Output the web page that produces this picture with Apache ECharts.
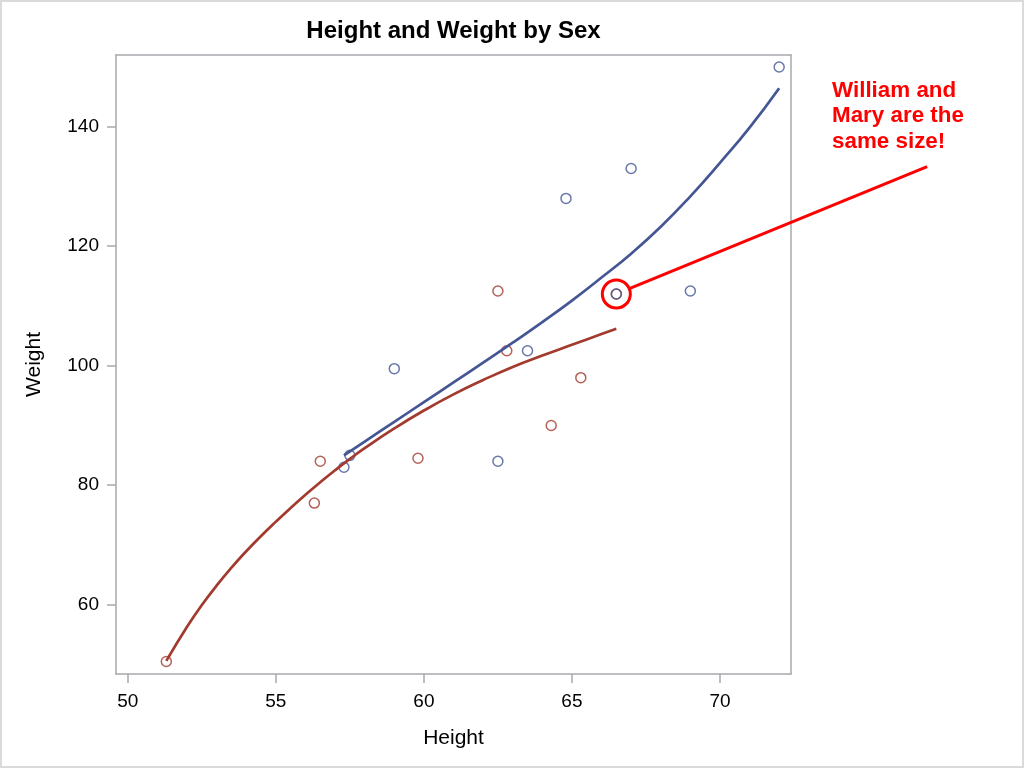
<!DOCTYPE html>
<html><head><meta charset="utf-8">
<script src="https://cdn.jsdelivr.net/npm/echarts@6/dist/echarts.min.js"></script>
<style>html,body{margin:0;padding:0;background:#fff}#c{width:1024px;height:768px}</style>
</head><body><div id="c"></div>
<script>
const maleHeight = [69.0, 63.5, 57.3, 62.5, 59.0, 72.0, 64.8, 67.0, 57.5, 66.5];
const maleWeight = [112.5, 102.5, 83.0, 84.0, 99.5, 150.0, 128.0, 133.0, 85.0, 112.0];
const femaleHeight = [56.5, 65.3, 62.8, 59.8, 62.5, 51.3, 64.3, 56.3, 66.5];
const femaleWeight = [84.0, 98.0, 102.5, 84.5, 112.5, 50.5, 90.0, 77.0, 112.0];
const maleFitX = [57.3, 58.0, 59.0, 60.0, 61.0, 62.0, 63.0, 64.0, 65.0, 66.0, 67.0, 68.0, 69.0, 70.0, 71.0, 72.0];
const maleFitY = [85.0, 87.3, 90.6, 93.9, 97.2, 100.5, 103.85, 107.3, 110.9, 114.75, 118.75, 123.25, 128.35, 133.95, 139.85, 146.45];
const femaleFitX = [51.3, 52.0, 52.5, 53.0, 53.5, 54.0, 54.5, 55.0, 55.5, 56.0, 56.5, 57.0, 57.5, 58.0, 59.0, 60.0, 61.0, 62.0, 63.0, 64.0, 65.0, 66.0, 66.5];
const femaleFitY = [50.6, 56.3, 59.95, 63.2, 66.2, 68.95, 71.5, 73.9, 76.2, 78.4, 80.5, 82.5, 84.4, 86.2, 89.5, 92.5, 95.2, 97.6, 99.8, 101.7, 103.5, 105.3, 106.2];
const xTicks = [50, 55, 60, 65, 70];
const yTicks = [60, 80, 100, 120, 140];
const titleText = 'Height and Weight by Sex';
const xName = 'Height';
const yName = 'Weight';
const noteLines = ['William and', 'Mary are the', 'same size!'];
const notePoint = [66.5, 112.0];
const noteAnchor = [77.0, 133.3];

const FONT = '"Liberation Sans", Arial, Helvetica, sans-serif';
const BLUE = '#445694', RED = '#A23A2E', FRAME = '#a6a9ae';
const zip = (a, b) => a.map((v, i) => [v, b[i]]);

const chart = echarts.init(document.getElementById('c'), null, {renderer: 'canvas'});
const frameAxis = {show: true, lineStyle: {color: FRAME, width: 1.5}};
chart.setOption({
  backgroundColor: '#fff',
  animation: false,
  title: {text: titleText, left: 453.5, textAlign: 'center', top: 19, padding: 0,
    textStyle: {fontSize: 24, fontWeight: 'bold', color: '#000', fontFamily: FONT}},
  grid: {left: 116, top: 55, right: 233, bottom: 94, containLabel: false},
  xAxis: [{
    type: 'value', min: 49.6, max: 72.4, position: 'bottom',
    name: xName, nameLocation: 'middle', nameGap: 54,
    nameTextStyle: {fontSize: 21, color: '#000', fontFamily: FONT},
    axisLine: frameAxis,
    axisTick: {show: true, length: 9, customValues: xTicks, lineStyle: {color: FRAME, width: 1.5}},
    axisLabel: {customValues: xTicks, margin: 18, fontSize: 19, color: '#000', fontFamily: FONT},
    splitLine: {show: false}
  }, {
    type: 'value', min: 49.6, max: 72.4, position: 'top',
    axisLine: frameAxis, axisTick: {show: false}, axisLabel: {show: false}, splitLine: {show: false}
  }],
  yAxis: [{
    type: 'value', min: 48.4, max: 152.0, position: 'left',
    name: yName, nameLocation: 'middle', nameGap: 71,
    nameTextStyle: {fontSize: 21, color: '#000', fontFamily: FONT},
    axisLine: frameAxis,
    axisTick: {show: true, length: 9, customValues: yTicks, lineStyle: {color: FRAME, width: 1.5}},
    axisLabel: {customValues: yTicks, margin: 17, fontSize: 19, color: '#000', fontFamily: FONT},
    splitLine: {show: false}
  }, {
    type: 'value', min: 48.4, max: 152.0, position: 'right',
    axisLine: frameAxis, axisTick: {show: false}, axisLabel: {show: false}, splitLine: {show: false}
  }],
  series: [
    {type: 'scatter', name: 'F', data: zip(femaleHeight, femaleWeight), symbol: 'circle', symbolSize: 10,
      itemStyle: {color: 'transparent', borderColor: RED, borderWidth: 1.5}, z: 3},
    {type: 'scatter', name: 'M', data: zip(maleHeight, maleWeight), symbol: 'circle', symbolSize: 10,
      itemStyle: {color: 'transparent', borderColor: BLUE, borderWidth: 1.5}, z: 3},
    {type: 'line', name: 'M fit', data: zip(maleFitX, maleFitY), showSymbol: false, smooth: 0.5,
      lineStyle: {color: BLUE, width: 2.7}, z: 4},
    {type: 'line', name: 'F fit', data: zip(femaleFitX, femaleFitY), showSymbol: false, smooth: 0.5,
      lineStyle: {color: RED, width: 2.7}, z: 4}
  ]
});

const c = chart.convertToPixel({xAxisIndex: 0, yAxisIndex: 0}, notePoint);
const e = chart.convertToPixel({xAxisIndex: 0, yAxisIndex: 0}, noteAnchor);
const dx = e[0] - c[0], dy = e[1] - c[1], len = Math.hypot(dx, dy);
const R = 14;
const s = [c[0] + dx / len * R, c[1] + dy / len * R];
chart.setOption({
  graphic: [
    {type: 'rect', shape: {x: 1, y: 1, width: 1022, height: 766}, silent: true,
      style: {fill: 'none', stroke: '#dadada', lineWidth: 2}, z: 100},
    {type: 'circle', shape: {cx: c[0], cy: c[1], r: R},
      style: {fill: 'none', stroke: '#ff0000', lineWidth: 3}, z: 100},
    {type: 'line', shape: {x1: s[0], y1: s[1], x2: e[0], y2: e[1]},
      style: {stroke: '#ff0000', lineWidth: 3}, z: 100},
    {type: 'text', x: 832, y: 78, z: 100,
      style: {text: noteLines.join('\n'), fill: '#ff0000', font: 'bold 22.4px ' + FONT,
        lineHeight: 25.5, verticalAlign: 'top', align: 'left'}}
  ]
});
</script></body></html>
